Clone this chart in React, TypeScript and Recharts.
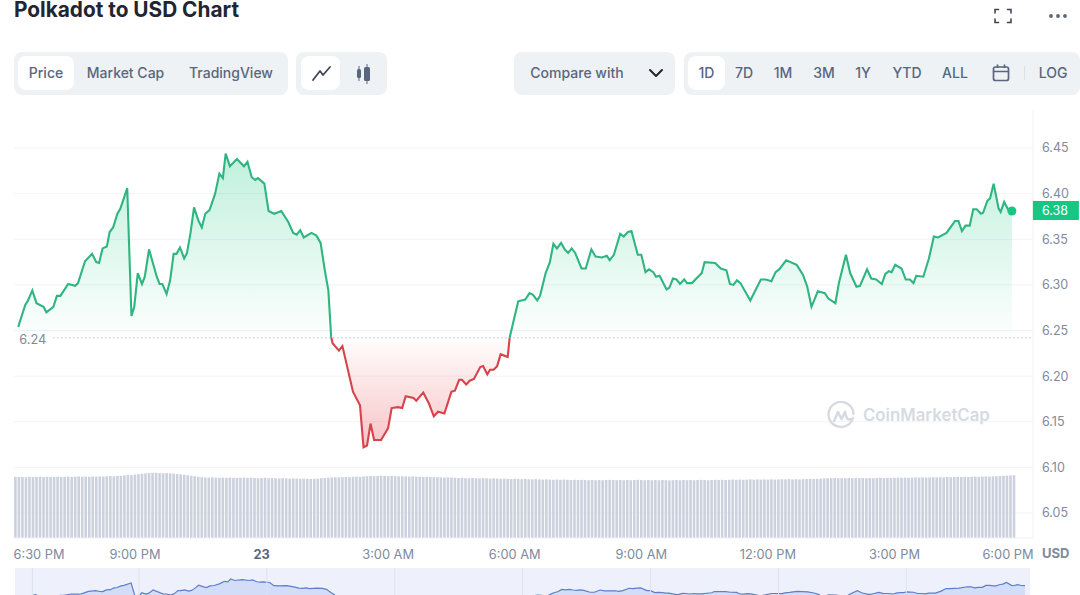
import * as React from 'react';
import {
  Area,
  AreaChart,
  Bar,
  CartesianGrid,
  ComposedChart,
  ReferenceDot,
  ReferenceLine,
  XAxis,
  YAxis,
} from 'recharts';

// minutes after 6 PM on the 22nd
const priceMinutes = [
  14, 24, 28, 34, 40, 50, 54, 64, 69, 74,
  85, 95, 99, 109, 119, 125, 129, 134, 140, 144,
  149, 155, 159, 169, 175, 179, 184, 190, 194, 200,
  211, 215, 219, 225, 230, 235, 239, 244, 250, 254,
  259, 264, 270, 275, 280, 286, 294, 300, 305, 309,
  315, 325, 335, 340, 346, 351, 355, 364, 370, 378,
  388, 398, 405, 410, 415, 420, 431, 438, 444, 450,
  455, 459, 461, 470, 475, 490, 500, 505, 510, 515,
  520, 530, 540, 545, 554, 560, 565, 576, 580, 590,
  598, 605, 611, 620, 630, 635, 641, 645, 651, 656,
  662, 671, 675, 681, 685, 690, 695, 700, 710, 713,
  725, 735, 741, 746, 752, 756, 764, 770, 775, 780,
  786, 791, 796, 801, 806, 815, 821, 829, 835, 844,
  851, 855, 861, 870, 875, 881, 886, 895, 900, 906,
  911, 917, 921, 926, 936, 940, 945, 950, 955, 961,
  965, 972, 986, 990, 1005, 1013, 1021, 1026, 1031, 1036,
  1041, 1055, 1070, 1077, 1085, 1091, 1096, 1106, 1121, 1130,
  1136, 1142, 1151, 1161, 1166, 1176, 1181, 1191, 1197, 1206,
  1211, 1221, 1227, 1234, 1242, 1247, 1252, 1256, 1261, 1270,
  1276, 1282, 1287, 1291, 1301, 1309, 1316, 1322, 1334, 1346,
  1351, 1356, 1361, 1367, 1372, 1377, 1383, 1386, 1392, 1396,
  1401, 1408, 1411, 1416, 1422, 1427,
];

const priceValues = [
  6.254, 6.278, 6.283, 6.294, 6.28, 6.276, 6.27, 6.276, 6.288, 6.288,
  6.301, 6.299, 6.302, 6.326, 6.334, 6.325, 6.324, 6.34, 6.342, 6.358,
  6.363, 6.378, 6.383, 6.406, 6.266, 6.276, 6.313, 6.301, 6.309, 6.339,
  6.309, 6.301, 6.301, 6.29, 6.305, 6.334, 6.334, 6.341, 6.329, 6.335,
  6.357, 6.385, 6.371, 6.363, 6.378, 6.382, 6.4, 6.422, 6.417, 6.444,
  6.43, 6.438, 6.43, 6.435, 6.418, 6.415, 6.417, 6.411, 6.381, 6.378,
  6.381, 6.369, 6.357, 6.355, 6.36, 6.352, 6.357, 6.354, 6.346, 6.316,
  6.294, 6.243, 6.236, 6.228, 6.233, 6.183, 6.168, 6.122, 6.124, 6.148,
  6.13, 6.13, 6.143, 6.165, 6.166, 6.165, 6.178, 6.176, 6.173, 6.182,
  6.17, 6.156, 6.161, 6.159, 6.183, 6.184, 6.196, 6.196, 6.191, 6.195,
  6.197, 6.21, 6.211, 6.202, 6.207, 6.207, 6.211, 6.224, 6.221, 6.243,
  6.282, 6.284, 6.291, 6.289, 6.283, 6.288, 6.313, 6.325, 6.345, 6.34,
  6.346, 6.339, 6.335, 6.34, 6.335, 6.318, 6.318, 6.339, 6.331, 6.33,
  6.332, 6.327, 6.333, 6.356, 6.353, 6.358, 6.359, 6.333, 6.333, 6.314,
  6.317, 6.314, 6.309, 6.31, 6.295, 6.297, 6.307, 6.306, 6.301, 6.306,
  6.302, 6.302, 6.313, 6.325, 6.324, 6.318, 6.316, 6.301, 6.3, 6.305,
  6.302, 6.283, 6.306, 6.306, 6.304, 6.314, 6.317, 6.327, 6.322, 6.311,
  6.298, 6.276, 6.293, 6.291, 6.285, 6.28, 6.302, 6.333, 6.313, 6.298,
  6.299, 6.317, 6.307, 6.306, 6.301, 6.312, 6.315, 6.314, 6.322, 6.318,
  6.306, 6.306, 6.302, 6.31, 6.309, 6.329, 6.353, 6.352, 6.357, 6.37,
  6.37, 6.359, 6.365, 6.365, 6.383, 6.383, 6.378, 6.379, 6.392, 6.395,
  6.411, 6.384, 6.38, 6.391, 6.382, 6.381,
];

// one bar every 5 minutes starting at minute 10, in $M
const volumeValues = [
  612, 610, 611, 608, 612, 609, 611, 613, 610, 612, 609, 611, 613, 610, 612, 614, 611, 613, 615, 612,
  614, 612, 615, 613, 616, 614, 617, 619, 616, 620, 622, 626, 630, 628, 634, 638, 642, 646, 650, 652,
  652, 650, 648, 650, 646, 644, 640, 636, 632, 628, 622, 618, 612, 608, 606, 604, 606, 604, 602, 604,
  602, 604, 602, 600, 602, 604, 600, 602, 600, 598, 600, 602, 598, 600, 598, 596, 598, 596, 594, 596,
  594, 592, 594, 592, 590, 592, 594, 598, 600, 604, 606, 608, 606, 608, 610, 608, 612, 614, 612, 616,
  618, 620, 618, 620, 622, 620, 618, 620, 618, 616, 618, 616, 614, 616, 614, 612, 610, 612, 610, 608,
  608, 606, 604, 606, 604, 602, 600, 602, 600, 598, 600, 598, 596, 598, 596, 594, 596, 594, 592, 594,
  592, 590, 592, 590, 588, 590, 588, 586, 588, 586, 584, 586, 584, 582, 584, 582, 584, 582, 580, 582,
  580, 582, 580, 578, 580, 578, 580, 578, 580, 582, 580, 578, 580, 578, 580, 578, 580, 582, 580, 578,
  580, 578, 580, 578, 580, 578, 576, 578, 580, 578, 580, 578, 580, 578, 580, 582, 580, 578, 580, 582,
  580, 582, 580, 582, 584, 582, 584, 582, 584, 586, 584, 586, 584, 586, 584, 586, 584, 586, 588, 586,
  588, 586, 588, 586, 588, 590, 592, 590, 592, 594, 596, 598, 598, 600, 598, 600, 598, 600, 598, 600,
  598, 600, 598, 600, 598, 600, 602, 600, 602, 600, 602, 604, 602, 604, 602, 604, 606, 604, 606, 604,
  606, 608, 606, 608, 606, 610, 608, 610, 612, 610, 612, 610, 612, 614, 612, 614, 616, 614, 616, 618,
  620, 622, 624, 626, 628,
];

const xTickMinutes = [30, 180, 360, 540, 720, 900, 1080, 1260, 1440];
const xTickLabels = ['6:30 PM', '9:00 PM', '23', '3:00 AM', '6:00 AM', '9:00 AM', '12:00 PM', '3:00 PM', '6:00 PM'];
const yTicks = [6.05, 6.1, 6.15, 6.2, 6.25, 6.3, 6.35, 6.4, 6.45];

const basePrice = 6.242;
const lastPrice = 6.381;
const lastMinute = 1427;

const FONT = 'Inter, sans-serif';
const GREEN = '#16c784';
const GREY = '#808a9d';
const SLATE = '#58667e';
const PILL_BG = '#eff2f5';

const priceData = priceMinutes.map((t, i) => ({ t, price: priceValues[i] }));
const volumeData = volumeValues.map((volume, i) => ({ t: 10 + i * 5, volume }));

const maxPrice = Math.max(...priceValues);
const minPrice = Math.min(...priceValues);
const splitAt = (maxPrice - basePrice) / (maxPrice - minPrice);

function TimeTick({ x, y, payload }: any) {
  const label = xTickLabels[xTickMinutes.indexOf(payload.value)];
  const half = 25;
  // first and last labels stay inside the plot
  const cx = Math.min(Math.max(x, 14 + half), 1033 - half);
  return (
    <text
      x={cx}
      y={y + 13}
      textAnchor="middle"
      fontFamily={FONT}
      fontSize={12.8}
      fontWeight={label === '23' ? 700 : 400}
      fill={label === '23' ? SLATE : GREY}
    >
      {label}
    </text>
  );
}

// recharts squeezes the bars on the number axis, so keep the stripe width here
function VolumeBar({ x, y, width, height }: any) {
  const w = 2.6;
  return <rect x={x + width / 2 - w / 2} y={y} width={w} height={height} fill="#cbd2de" />;
}

function LastPriceMarker({ cx, cy }: any) {
  return (
    <g>
      <circle cx={cx} cy={cy} r={4.5} fill={GREEN} />
      <rect x={cx + 21} y={cy - 10} width={46} height={19} fill={GREEN} />
      <text x={cx + 30} y={cy + 4} fontFamily={FONT} fontSize={12.5} fill="#fff">
        6.38
      </text>
    </g>
  );
}

function Pill({ x, w, y = 56, h = 34, active, bg, children, color = SLATE, weight = 500 }: any) {
  return (
    <div
      style={{
        position: 'absolute',
        left: x,
        top: y,
        width: w,
        height: h,
        lineHeight: h + 'px',
        textAlign: 'center',
        borderRadius: 8,
        background: active ? '#fff' : bg || 'transparent',
        color,
        fontSize: 14,
        fontWeight: weight,
      }}
    >
      {children}
    </div>
  );
}

function Panel({ x, w }: { x: number; w: number }) {
  return (
    <div
      style={{
        position: 'absolute',
        left: x,
        top: 52,
        width: w,
        height: 43,
        background: PILL_BG,
        borderRadius: 8,
      }}
    />
  );
}

function Icons() {
  return (
    <svg width={1080} height={110} style={{ position: 'absolute', left: 0, top: 0 }} fill="none">
      <g stroke="#3d4656" strokeWidth={1.6} strokeLinecap="round">
        <path d="M995 13 V9.5 H998.5 M1007.5 9.5 H1011 V13 M995 19 V22.5 H998.5 M1007.5 22.5 H1011 V19" />
      </g>
      <g fill="#58667e">
        <circle cx={1051} cy={16} r={1.9} />
        <circle cx={1058} cy={16} r={1.9} />
        <circle cx={1065} cy={16} r={1.9} />
      </g>
      <path d="M313 80 L320 71 L323 75 L330 67" stroke="#3d4656" strokeWidth={1.8} strokeLinejoin="round" strokeLinecap="round" />
      <g fill="#58667e">
        <rect x={357} y={69} width={4} height={9} rx={1.5} />
        <rect x={364} y={67} width={6} height={14} rx={1.5} />
      </g>
      <path d="M359 66 V81 M367 64 V84" stroke="#58667e" strokeWidth={1} />
      <path d="M650 70 L656 76 L662 70" stroke="#222531" strokeWidth={2} strokeLinecap="round" strokeLinejoin="round" />
      <g stroke="#58667e" strokeWidth={1.7}>
        <rect x={993.5} y={67} width={15} height={13.5} rx={2} />
        <path d="M993.5 71.5 H1008.5 M997.5 64.5 V68 M1004.5 64.5 V68" />
      </g>
      <path d="M1024.5 66 V80" stroke="#dde1e7" strokeWidth={1} />
    </svg>
  );
}

function Watermark() {
  return (
    <div style={{ position: 'absolute', left: 827, top: 401 }}>
      <svg width={30} height={30} fill="none" style={{ position: 'absolute', left: 0, top: 0 }}>
        <path
          d="M26 17 A12.5 12.5 0 1 1 26.5 13"
          stroke="#d6dae1"
          strokeWidth={2.4}
          strokeLinecap="round"
        />
        <path
          d="M7 20 L11 11 L14.5 18 L18 11 C19 16 20 20 24 18"
          stroke="#d6dae1"
          strokeWidth={2.6}
          strokeLinejoin="round"
          strokeLinecap="round"
        />
      </svg>
      <div
        style={{
          position: 'absolute',
          left: 36,
          top: 4,
          fontSize: 16.8,
          fontWeight: 600,
          color: '#d6dae1',
          whiteSpace: 'nowrap',
        }}
      >
        CoinMarketCap
      </div>
    </div>
  );
}

function Navigator() {
  return (
    <div
      style={{
        position: 'absolute',
        left: 15,
        top: 568,
        width: 1015,
        height: 27,
        overflow: 'hidden',
        background: '#eef1fb',
      }}
    >
      <AreaChart
        width={1015}
        height={60}
        data={priceData}
        margin={{ top: 0, right: 5, bottom: 0, left: 6 }}
      >
        <XAxis dataKey="t" type="number" domain={[14, 1427]} hide />
        <YAxis domain={[5.977, 6.549]} hide />
        {xTickMinutes.map((t) => (
          <ReferenceLine key={t} x={t} stroke="#dde3f2" strokeWidth={1} />
        ))}
        <Area
          dataKey="price"
          type="linear"
          stroke="#5d7fc9"
          strokeWidth={1.2}
          fill="#d3ddf7"
          fillOpacity={1}
          isAnimationActive={false}
        />
      </AreaChart>
    </div>
  );
}

export default function App() {
  return (
    <div
      style={{
        position: 'fixed',
        left: 0,
        top: 0,
        width: 1080,
        height: 595,
        overflow: 'hidden',
        background: '#fff',
        fontFamily: FONT,
      }}
    >
      <div
        style={{
          position: 'absolute',
          left: 14,
          top: 0,
          fontSize: 20.8,
          lineHeight: '19px',
          fontWeight: 700,
          color: '#222531',
          whiteSpace: 'nowrap',
        }}
      >
        Polkadot to USD Chart
      </div>

      <Panel x={14} w={274} />
      <Panel x={296} w={91} />
      <Panel x={514} w={161} />
      <Panel x={684} w={396} />
      <Pill x={18} w={56} active>Price</Pill>
      <Pill x={78} w={95}>Market Cap</Pill>
      <Pill x={178} w={106}>TradingView</Pill>
      <Pill x={301} w={39} active />
      <Pill x={519} w={116}>Compare with</Pill>
      <Pill x={688} w={37} active>1D</Pill>
      <Pill x={726} w={36}>7D</Pill>
      <Pill x={765} w={36}>1M</Pill>
      <Pill x={806} w={36}>3M</Pill>
      <Pill x={846} w={34}>1Y</Pill>
      <Pill x={888} w={38}>YTD</Pill>
      <Pill x={936} w={38}>ALL</Pill>
      <Pill x={1034} w={38}>LOG</Pill>
      <Icons />

      <ComposedChart
        width={1080}
        height={595}
        data={volumeData}
        margin={{ top: 110, right: 0, bottom: 27, left: 14 }}
        style={{ position: 'absolute', left: 0, top: 0 }}
      >
        <defs>
          <linearGradient id="priceStroke" x1="0" y1="0" x2="0" y2="1">
            <stop offset={splitAt} stopColor="#2fb680" />
            <stop offset={splitAt} stopColor="#d6434b" />
          </linearGradient>
          <linearGradient id="priceFill" x1="0" y1="0" x2="0" y2="1">
            <stop offset={0} stopColor={GREEN} stopOpacity={0.27} />
            <stop offset={splitAt} stopColor={GREEN} stopOpacity={0.01} />
            <stop offset={splitAt} stopColor="#ea3943" stopOpacity={0.01} />
            <stop offset={1} stopColor="#ea3943" stopOpacity={0.3} />
          </linearGradient>
        </defs>
        <CartesianGrid yAxisId="price" vertical={false} stroke="#f1f3f6" syncWithTicks />
        <XAxis
          dataKey="t"
          type="number"
          domain={[8, 1457]}
          ticks={xTickMinutes}
          interval={0}
          height={30}
          tickLine={false}
          axisLine={{ stroke: '#eff2f5' }}
          tick={<TimeTick />}
        />
        <YAxis
          yAxisId="price"
          orientation="right"
          width={47}
          domain={[6.0226, 6.4917]}
          ticks={yTicks}
          interval={0}
          allowDataOverflow
          tickLine={false}
          tickMargin={3}
          axisLine={{ stroke: '#eff2f5' }}
          tick={{ fill: GREY, fontSize: 12.5, fontFamily: FONT }}
          tickFormatter={(v: number) => v.toFixed(2)}
        />
        <YAxis yAxisId="volume" hide domain={[0, 4280]} />
        <Bar
          yAxisId="volume"
          dataKey="volume"
          shape={<VolumeBar />}
          isAnimationActive={false}
        />
        <ReferenceLine
          yAxisId="price"
          segment={[
            { x: 64, y: basePrice },
            { x: 1457, y: basePrice },
          ]}
          stroke="#98a2b6"
          strokeWidth={1}
          strokeDasharray="1 3"
          label={{
            value: '6.24',
            position: 'left',
            offset: 7,
            fill: GREY,
            fontSize: 12.8,
            fontFamily: FONT,
            dy: 2,
          }}
        />
        <Area
          yAxisId="price"
          data={priceData}
          dataKey="price"
          type="linear"
          baseValue={basePrice}
          stroke="url(#priceStroke)"
          strokeWidth={2.1}
          fill="url(#priceFill)"
          fillOpacity={1}
          dot={false}
          activeDot={false}
          isAnimationActive={false}
        />
        <ReferenceDot
          yAxisId="price"
          x={lastMinute}
          y={lastPrice}
          shape={<LastPriceMarker />}
        />
      </ComposedChart>

      <div
        style={{
          position: 'absolute',
          left: 1042,
          top: 546,
          fontSize: 13,
          lineHeight: '14px',
          fontWeight: 700,
          color: GREY,
        }}
      >
        USD
      </div>
      <Watermark />
      <Navigator />
    </div>
  );
}
